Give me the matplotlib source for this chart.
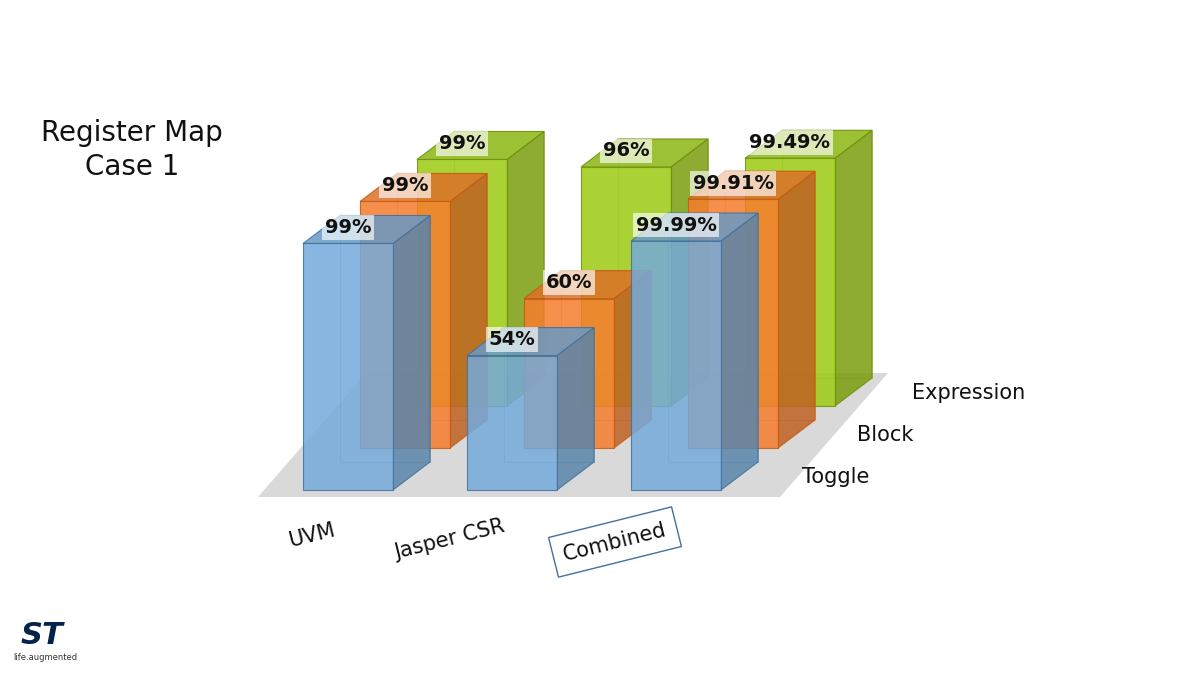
import matplotlib
matplotlib.use("Agg")
import matplotlib.pyplot as plt
from matplotlib.patches import Polygon
import matplotlib.colors as mc

categories = ["UVM", "Jasper CSR", "Combined"]
series = ["Toggle", "Block", "Expression"]
toggle = [99, 54, 99.99]
block = [99, 60, 99.91]
expression = [99, 96, 99.49]
labels_toggle = ["99%", "54%", "99.99%"]
labels_block = ["99%", "60%", "99.91%"]
labels_expr = ["99%", "96%", "99.49%"]

values = [toggle, block, expression]
labels = [labels_toggle, labels_block, labels_expr]
colors = ["#74AADB", "#F67C2C", "#9CCB12"]
edges = ["#41719C", "#C55A11", "#6E8F0A"]

fig = plt.figure(figsize=(12, 6.75), dpi=100)
ax = fig.add_axes([0, 0, 1, 1])
ax.set_xlim(0, 1200); ax.set_ylim(675, 0); ax.axis("off")

X0, Y0 = 303, 490
CW, BW = 164, 90
SDX, SDY = 57, -42
DDX, DDY = 37, -28
HS = 2.49

def P(cat, ser, h, dx=0, dd=0):
    x = X0 + cat * CW + ser * SDX + dx + dd * DDX
    y = Y0 + ser * SDY - h * HS + dd * DDY
    return (x, y)

fl = [(258, 497), (780, 497), (888, 373), (366, 373)]
ax.add_patch(Polygon(fl, closed=True, fc="#D9D9D9", ec="none", zorder=0))

z = 1
for s in [2, 1, 0]:
    for c in range(3):
        h = values[s][c]
        col = colors[s]
        dark = tuple(v * 0.78 for v in mc.to_rgb(col))
        light = tuple(v * 0.9 for v in mc.to_rgb(col))
        front = [P(c, s, 0), P(c, s, 0, BW), P(c, s, h, BW), P(c, s, h)]
        side = [P(c, s, 0, BW), P(c, s, 0, BW, 1), P(c, s, h, BW, 1), P(c, s, h, BW)]
        top = [P(c, s, h), P(c, s, h, BW), P(c, s, h, BW, 1), P(c, s, h, 0, 1)]
        back = [P(c, s, 0, 0, 1), P(c, s, 0, BW, 1), P(c, s, h, BW, 1), P(c, s, h, 0, 1)]
        ax.add_patch(Polygon(back, closed=True, fc="none", ec=edges[s], lw=0.6, alpha=0.5, zorder=z))
        ax.add_patch(Polygon(side, closed=True, fc=dark, ec=edges[s], lw=0.8, alpha=0.85, zorder=z + 1))
        ax.add_patch(Polygon(top, closed=True, fc=light, ec=edges[s], lw=0.8, alpha=0.85, zorder=z + 1))
        ax.add_patch(Polygon(front, closed=True, fc=col, ec=edges[s], lw=0.8, alpha=0.85, zorder=z + 2))
        lx, ly = P(c, s, h, BW / 2)
        ax.text(lx, ly - 16, labels[s][c], ha="center", va="center", fontsize=14,
                fontweight="bold", color="#111111", zorder=z + 3,
                bbox=dict(boxstyle="square,pad=0.15", fc="white", ec="none", alpha=0.65))
        z += 4

for s, name in enumerate(series):
    ax.text(802 + s * 55, 477 + s * SDY, name, ha="left", va="center", fontsize=15,
            color="#111111", zorder=100)

catpos = [(312, 535), (450, 540), (615, 542)]
for i, name in enumerate(categories):
    kw = {}
    if i == 2:
        kw["bbox"] = dict(boxstyle="square,pad=0.5", fc="white", ec="#41719C", lw=1)
    ax.text(catpos[i][0], catpos[i][1], name, ha="center", va="center", fontsize=15,
            rotation=14, color="#111111", zorder=100, **kw)

ax.text(132, 150, "Register Map\nCase 1", ha="center", va="center", fontsize=20,
        fontweight="normal", color="#111111", linespacing=1.3)

ax.text(42, 636, "ST", ha="center", va="center", fontsize=22, fontweight="bold",
        style="italic", color="#03234B")
ax.text(45, 658, "life.augmented", ha="center", va="center", fontsize=6, color="#333333")

fig.savefig("out.png", dpi=100)
